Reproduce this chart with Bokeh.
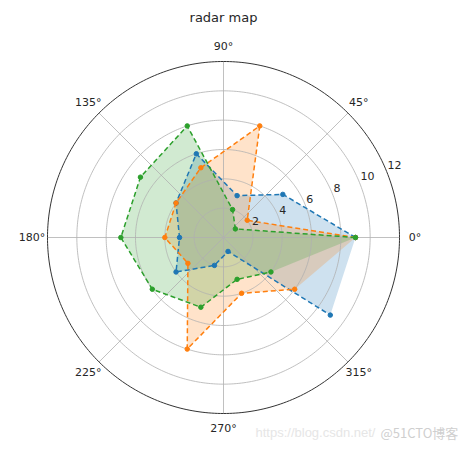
import numpy as np
from bokeh.plotting import figure
from bokeh.models import Range1d
from bokeh.core.properties import value
from bokeh.embed import file_html
from bokeh.resources import INLINE

# ---- data ----
angles_deg = [0, 36, 72, 108, 144, 180, 216, 252, 288, 324]
series_a = [9, 5, 3, 6, 4, 3, 4, 2, 1, 9]
series_b = [9, 2, 8, 5, 4, 4, 3, 8, 4, 6]
series_c = [9, 1, 2, 8, 7, 7, 6, 5, 3, 4]
colors = ["#1f77b4", "#ff7f0e", "#2ca02c"]
r_ticks = [2, 4, 6, 8, 10, 12]
theta_ticks = [0, 45, 90, 135, 180, 225, 270, 315]
theta_labels = ["0°", "45°", "90°", "135°", "180°", "225°", "270°", "315°"]
r_max = 12
title_text = "radar map"

# ---- geometry ----
W, H = 466, 441
S = 176 / r_max          # px per unit
cx, cy = 223, 237        # center in figure pixels (from top-left)

p = figure(width=W, height=H,
           x_range=Range1d(-cx / S, (W - cx) / S),
           y_range=Range1d(-(H - cy) / S, cy / S),
           output_backend="svg", toolbar_location=None, min_border=0,
           x_axis_location=None, y_axis_location=None)
p.grid.visible = False
p.outline_line_color = None
p.background_fill_color = "white"

def to_xy(vals, angs):
    a = np.deg2rad(np.asarray(angs, dtype=float))
    v = np.asarray(vals, dtype=float)
    return v * np.cos(a), v * np.sin(a)

font = value("DejaVu Sans")
allseries = [series_a, series_b, series_c]

# fills
for vals, c in zip(allseries, colors):
    x, y = to_xy(vals, angles_deg)
    p.patch(list(x) + [x[0]], list(y) + [y[0]], fill_color=c, fill_alpha=0.22, line_color=None)

# grid circles
tt = np.linspace(0, 2 * np.pi, 361)
for r in r_ticks[:-1]:
    p.line(r * np.cos(tt), r * np.sin(tt), line_color="#b0b0b0", line_width=0.8)
# spokes
for t in theta_ticks:
    a = np.deg2rad(t)
    p.line([0, r_max * np.cos(a)], [0, r_max * np.sin(a)], line_color="#b0b0b0", line_width=0.8)

# series lines & markers
for vals, c in zip(allseries, colors):
    x, y = to_xy(vals, angles_deg)
    p.line(x, y, line_color=c, line_width=1.5, line_dash="5 3")
    p.scatter(x, y, size=4.5, fill_color=c, line_color=c)

# outer spine
p.line(r_max * np.cos(tt), r_max * np.sin(tt), line_color="#333333", line_width=1.0)

# angular labels
lx, ly = to_xy([13.05] * len(theta_ticks), theta_ticks)
p.text(lx, ly, text=theta_labels, text_font=font, text_font_size="11px",
       text_align="center", text_baseline="middle", text_color="#262626")

# radial labels
rx, ry = to_xy(r_ticks, [22.5] * len(r_ticks))
p.text(rx + 1.5 / S, ry + 1.0 / S, text=[str(r) for r in r_ticks], text_font=font,
       text_font_size="11px", text_align="left", text_baseline="bottom", text_color="#262626")

# title
p.text([0], [220 / S], text=[title_text], text_font=font, text_font_size="13px",
       text_align="center", text_baseline="middle", text_color="#262626")

# watermark
p.text([(255 - 223) / S], [(237 - 432) / S], text=["https://blog.csdn.net/"],
       text_font=value("Liberation Sans"), text_font_size="13px",
       text_align="left", text_baseline="middle", text_color="#e6e6e6")
p.text([(380 - 223) / S], [(237 - 432) / S], text=["@51CTO博客"],
       text_font=value("Noto Sans CJK SC"), text_font_size="13px",
       text_align="left", text_baseline="middle", text_color="#cfcfcf")

open("out.html", "w").write(file_html(p, INLINE))
